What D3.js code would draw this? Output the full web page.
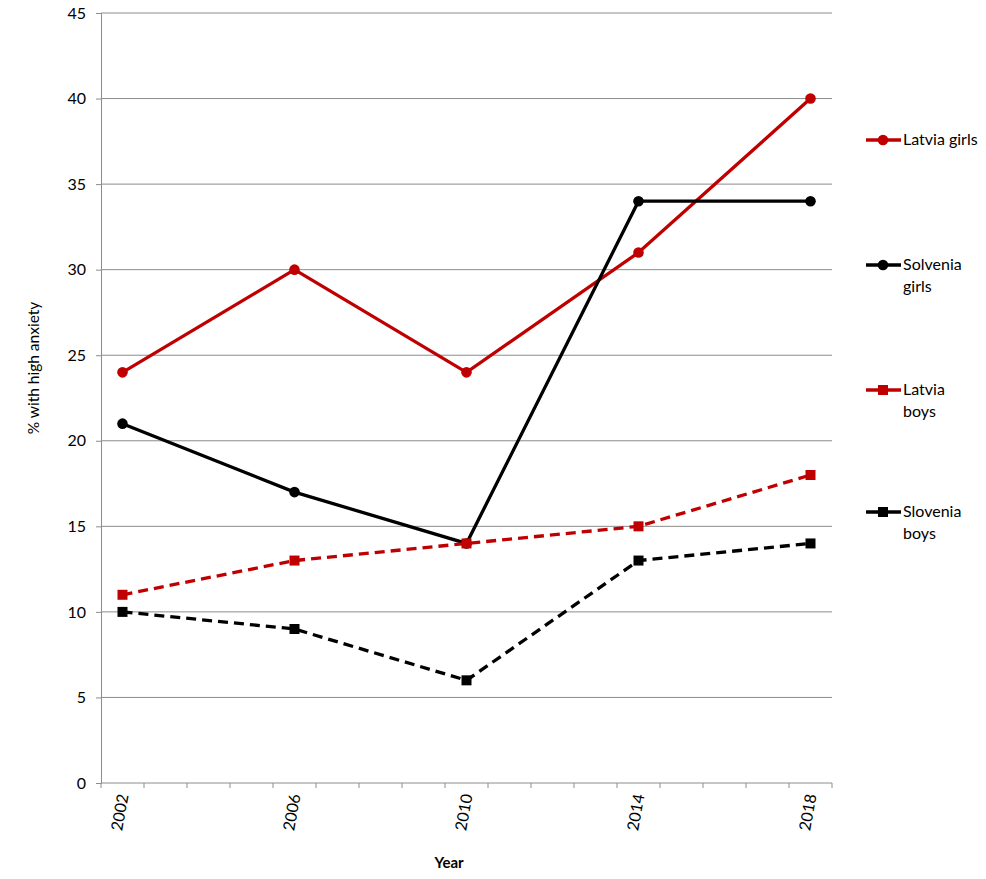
<!DOCTYPE html>
<html><head><meta charset="utf-8">
<script src="https://cdn.jsdelivr.net/npm/d3@7"></script>
<style>body{margin:0;background:#fff}svg{display:block}text{font-family:Lato,"Open Sans",sans-serif}</style>
</head><body><div id="chart"></div>
<script>
const years = d3.range(2002, 2019).map(String);
const surveyYears = ["2002","2006","2010","2014","2018"];
const yTicks = [0,5,10,15,20,25,30,35,40,45];
const latviaGirls = [24,30,24,31,40];
const sloveniaGirls = [21,17,14,34,34];
const latviaBoys = [11,13,14,15,18];
const sloveniaBoys = [10,9,6,13,14];
const seriesNames = ["Latvia girls","Solvenia girls","Latvia boys","Slovenia boys"];
const seriesValues = [latviaGirls, sloveniaGirls, latviaBoys, sloveniaBoys];
const seriesColors = ["#c00000","#000000","#c00000","#000000"];
const seriesDashed = [false,false,true,true];
const seriesMarker = ["circle","circle","square","square"];

const W=986,H=879;
const m={left:101,right:154,top:13,bottom:96};
const svg=d3.select("#chart").append("svg").attr("width",W).attr("height",H);
const x=d3.scaleBand().domain(years).range([m.left,W-m.right]);
const y=d3.scaleLinear().domain([0,45]).range([H-m.bottom,m.top]);

// gridlines
svg.append("g").selectAll("line").data(yTicks.filter(d=>d>0)).join("line")
 .attr("x1",m.left).attr("x2",W-m.right).attr("y1",d=>y(d)).attr("y2",d=>y(d))
 .attr("stroke","#8c8c8c").attr("stroke-width",1);

// y axis
const ya=svg.append("g").attr("transform",`translate(${m.left},0)`)
 .call(d3.axisLeft(y).tickValues(yTicks).tickSize(5).tickPadding(10));
ya.select(".domain").attr("stroke","#8c8c8c");
ya.selectAll(".tick line").attr("stroke","#8c8c8c");
ya.selectAll("text").attr("font-size",16).attr("fill","#000").attr("font-family","Lato,sans-serif");

// x axis
const xa=svg.append("g").attr("transform",`translate(0,${H-m.bottom})`);
xa.append("line").attr("x1",m.left).attr("x2",W-m.right).attr("stroke","#8c8c8c");
const edges=years.map(d=>x(d)).concat([x(years[years.length-1])+x.bandwidth()]);
xa.selectAll("line.t").data(edges).join("line").attr("class","t")
 .attr("x1",d=>d).attr("x2",d=>d).attr("y1",0).attr("y2",5).attr("stroke","#8c8c8c");
xa.selectAll("text").data(surveyYears).join("text")
 .attr("transform",d=>`translate(${x(d)+x.bandwidth()/2+6},${12}) rotate(-80)`)
 .attr("text-anchor","end").attr("font-size",16).attr("fill","#000").text(d=>d);

// axis titles
svg.append("text").attr("transform",`translate(39,${368}) rotate(-90)`).attr("text-anchor","middle")
 .attr("font-size",15.5).text("% with high anxiety");
svg.append("text").attr("x",449).attr("y",868).attr("text-anchor","middle")
 .attr("font-size",15).attr("font-weight","bold").text("Year");

// series
const cx=d=>x(d)+x.bandwidth()/2;
const line=d3.line().x(d=>cx(d[0])).y(d=>y(d[1]));
seriesValues.forEach((vals,i)=>{
 const pts=surveyYears.map((yr,j)=>[yr,vals[j]]);
 const g=svg.append("g");
 g.append("path").attr("d",line(pts)).attr("fill","none").attr("stroke",seriesColors[i])
  .attr("stroke-width",3.3).attr("stroke-dasharray",seriesDashed[i]?"10,6":null);
 if(seriesMarker[i]==="circle"){
  g.selectAll("circle").data(pts).join("circle").attr("cx",d=>cx(d[0])).attr("cy",d=>y(d[1])).attr("r",5.3).attr("fill",seriesColors[i]);
 } else {
  g.selectAll("rect").data(pts).join("rect").attr("x",d=>cx(d[0])-5).attr("y",d=>y(d[1])-5).attr("width",10).attr("height",10).attr("fill",seriesColors[i]);
 }
});

// legend
const legY=[140,265,390,512];
const leg=svg.append("g");
seriesNames.forEach((n,i)=>{
 const g=leg.append("g").attr("transform",`translate(866,${legY[i]})`);
 g.append("line").attr("x1",0).attr("x2",35).attr("stroke",seriesColors[i]).attr("stroke-width",3.3);
 if(seriesMarker[i]==="circle") g.append("circle").attr("cx",17).attr("r",5.3).attr("fill",seriesColors[i]);
 else g.append("rect").attr("x",12).attr("y",-5).attr("width",10).attr("height",10).attr("fill",seriesColors[i]);
 const words=n.split(" ");
 const t=g.append("text").attr("x",37).attr("y",5).attr("font-size",16);
 if(i===0) t.text(n);
 else { t.append("tspan").attr("x",37).text(words[0]); t.append("tspan").attr("x",37).attr("dy",22).text(words[1]); }
});
</script></body></html>
